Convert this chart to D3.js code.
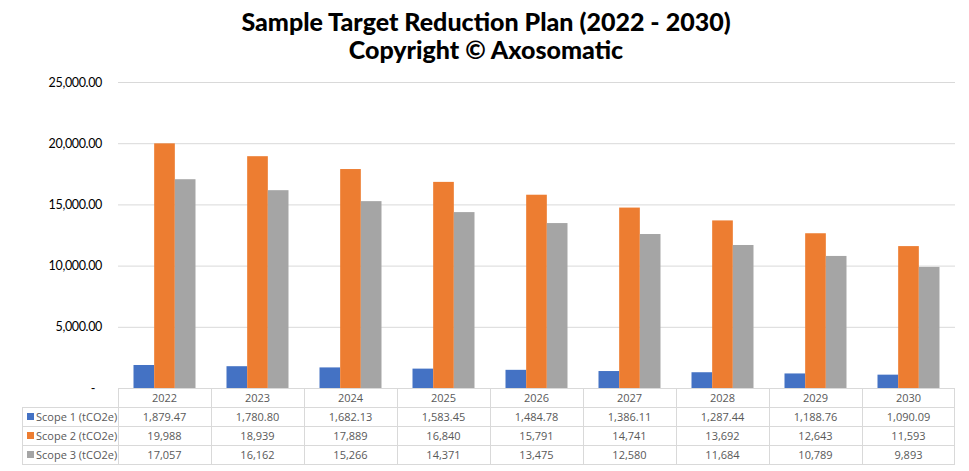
<!DOCTYPE html>
<html>
<head>
<meta charset="utf-8">
<script src="https://cdn.jsdelivr.net/npm/d3@7"></script>
<style>
  html, body { margin: 0; padding: 0; background: #fff; }
  svg { display: block; }
</style>
</head>
<body>
<svg id="chart" width="969" height="471"></svg>
<script>
const years = ["2022","2023","2024","2025","2026","2027","2028","2029","2030"];
const seriesNames = ["Scope 1 (tCO2e)","Scope 2 (tCO2e)","Scope 3 (tCO2e)"];
const scope1 = [1879.47,1780.80,1682.13,1583.45,1484.78,1386.11,1287.44,1188.76,1090.09];
const scope2 = [19988,18939,17889,16840,15791,14741,13692,12643,11593];
const scope3 = [17057,16162,15266,14371,13475,12580,11684,10789,9893];
const yTicks = [0,5000,10000,15000,20000,25000];
const colors = ["#4472C4","#ED7D31","#A5A5A5"];
const titleLines = ["Sample Target Reduction Plan (2022 - 2030)","Copyright \u00A9 Axosomatic"];

const seriesValues = [scope1, scope2, scope3];
const seriesFormats = [d3.format(",.2f"), d3.format(",.0f"), d3.format(",.0f")];

const svg = d3.select("#chart");
const plotL = 118, plotR = 955, plotT = 82, plotB = 388;
const rowH = 19;

const x0 = d3.scaleBand().domain(years).range([plotL, plotR]).padding(0);
const bw = x0.bandwidth();
const barW = bw / 4.5;
const x1 = d3.scaleBand().domain(d3.range(3)).range([barW * 0.75, bw - barW * 0.75]).padding(0);
const y = d3.scaleLinear().domain([0, 25000]).range([plotB, plotT]);

// title
const titleFont = "'Lato', 'DejaVu Sans', sans-serif";
svg.selectAll("text.title").data(titleLines).join("text")
  .attr("class","title")
  .attr("x", 486)
  .attr("y", (d,i) => 31 + i * 28)
  .attr("text-anchor","middle")
  .attr("font-family", titleFont)
  .attr("font-weight", 900)
  .attr("font-size", 25)
  .attr("fill", "#000")
  .text(d => d);

// gridlines
svg.append("g").selectAll("line").data(yTicks.filter(t => t > 0)).join("line")
  .attr("x1", plotL).attr("x2", plotR)
  .attr("y1", d => y(d) + 0.5).attr("y2", d => y(d) + 0.5)
  .attr("stroke", "#d9d9d9").attr("stroke-width", 1);

// y labels
const yFmt = d3.format(",.2f");
svg.append("g").selectAll("text").data(yTicks).join("text")
  .attr("x", d => d === 0 ? 95 : 102)
  .attr("y", d => y(d) + 4.5)
  .attr("text-anchor", "end")
  .attr("font-family", titleFont)
  .attr("font-size", 12.5)
  .attr("letter-spacing", -0.35)
  .attr("fill", "#000")
  .text(d => d === 0 ? "-" : yFmt(d));

// bars
const groups = svg.append("g").selectAll("g").data(years).join("g")
  .attr("transform", d => `translate(${x0(d)},0)`);
groups.selectAll("rect").data((d, i) => seriesValues.map((s, k) => ({k, v: s[i]}))).join("rect")
  .attr("x", d => x1(d.k))
  .attr("width", x1.bandwidth())
  .attr("y", d => y(d.v))
  .attr("height", d => plotB - y(d.v))
  .attr("fill", d => colors[d.k]);

// data table
const tbl = svg.append("g");
const tblFont = "'Open Sans', 'Noto Sans', sans-serif";
const gridC = "#d9d9d9";
const labelL = 22;
const tableBottom = plotB + rowH * 4;
tbl.append("line").attr("x1", plotL).attr("x2", plotR).attr("y1", plotB + 0.5).attr("y2", plotB + 0.5).attr("stroke", gridC);
[1,2,3,4].forEach(r => {
  tbl.append("line").attr("x1", labelL).attr("x2", plotR)
    .attr("y1", plotB + r * rowH + 0.5).attr("y2", plotB + r * rowH + 0.5).attr("stroke", gridC);
});
tbl.append("line").attr("x1", labelL + 0.5).attr("x2", labelL + 0.5)
  .attr("y1", plotB + rowH).attr("y2", tableBottom).attr("stroke", gridC);
years.forEach(yr => {
  tbl.append("line").attr("x1", x0(yr) + 0.5).attr("x2", x0(yr) + 0.5)
    .attr("y1", plotB).attr("y2", tableBottom).attr("stroke", gridC);
});
tbl.append("line").attr("x1", plotR - 0.5).attr("x2", plotR - 0.5)
  .attr("y1", plotB).attr("y2", tableBottom).attr("stroke", gridC);

tbl.selectAll("text.yr").data(years).join("text")
  .attr("class","yr")
  .attr("x", d => x0(d) + bw / 2)
  .attr("y", plotB + rowH / 2 + 4)
  .attr("text-anchor","middle")
  .attr("font-family", tblFont).attr("font-size", 11).attr("fill", "#595959")
  .text(d => d);

seriesNames.forEach((name, k) => {
  const cy = plotB + rowH * (k + 1) + rowH / 2;
  tbl.append("rect").attr("x", 27).attr("y", cy - 3.5).attr("width", 7).attr("height", 7).attr("fill", colors[k]);
  tbl.append("text").attr("x", 36).attr("y", cy + 4)
    .attr("font-family", tblFont).attr("font-size", 11).attr("fill", "#595959").text(name);
  tbl.selectAll(null).data(years).join("text")
    .attr("x", d => x0(d) + bw / 2)
    .attr("y", cy + 4)
    .attr("text-anchor","middle")
    .attr("font-family", tblFont).attr("font-size", 11).attr("fill", "#595959")
    .text((d, i) => seriesFormats[k](seriesValues[k][i]));
});
</script>
</body>
</html>
